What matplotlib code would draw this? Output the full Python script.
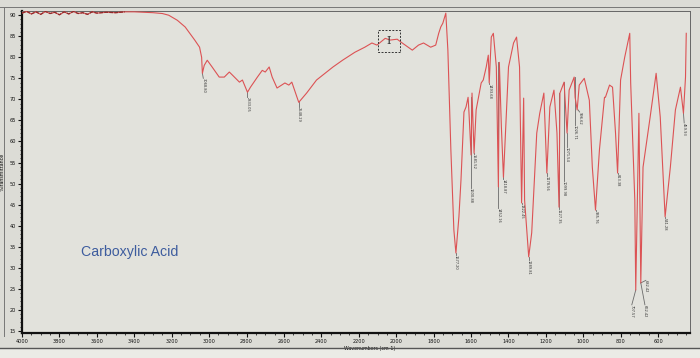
import matplotlib
matplotlib.use("Agg")
import matplotlib.pyplot as plt
from matplotlib.ticker import MultipleLocator
from matplotlib.patches import Rectangle
from matplotlib.lines import Line2D
import numpy as np

# ---- spectrum ----
wavenumber = [4000, 3975, 3950, 3925, 3900, 3875, 3850, 3825, 3800, 3775, 3750, 3725,
              3700, 3675, 3650, 3625, 3600, 3550, 3500, 3450, 3400, 3350, 3300, 3250,
              3216, 3170, 3128, 3077, 3051, 3040, 3036, 3026, 3010, 2984, 2946, 2919,
              2892, 2876, 2838, 2822, 2795, 2779, 2742, 2716, 2700, 2679, 2663, 2637,
              2595, 2574, 2558, 2521, 2479, 2426, 2338, 2287, 2221, 2168, 2130, 2103,
              2059, 2032, 1995, 1968, 1914, 1881, 1854, 1816, 1789, 1773, 1762, 1751,
              1735, 1724, 1708, 1692, 1681, 1665, 1654, 1643, 1638, 1627, 1616, 1611,
              1600, 1595, 1584, 1573, 1546, 1535, 1519, 1508, 1503, 1492, 1481, 1465,
              1454, 1449, 1438, 1427, 1400, 1373, 1357, 1341, 1330, 1319, 1314, 1292,
              1276, 1249, 1233, 1211, 1195, 1179, 1157, 1141, 1130, 1125, 1103, 1087,
              1076, 1049, 1044, 1033, 1022, 995, 968, 952, 935, 914, 887, 882, 860,
              844, 828, 817, 801, 779, 752, 747, 725, 720, 703, 693, 681, 643, 611,
              589, 563, 535, 508, 481, 465, 454, 450]
transmittance = [90.5, 90.9, 90.3, 90.8, 90.2, 90.9, 90.4, 90.7, 90.1, 90.8, 90.3, 90.9,
                 90.4, 90.6, 90.2, 90.8, 90.5, 90.7, 90.6, 90.8, 90.8, 90.7, 90.6, 90.4,
                 90.0, 88.8, 87.2, 84.1, 82.4, 80.0, 76.2, 78.1, 79.3, 77.7, 75.3, 75.3,
                 76.5, 75.8, 74.1, 74.6, 71.7, 72.9, 75.3, 76.9, 76.5, 77.7, 75.3, 72.7,
                 73.9, 73.4, 74.1, 69.3, 71.5, 74.6, 77.7, 79.3, 81.2, 82.4, 83.4, 82.9,
                 84.5, 84.1, 84.3, 83.4, 81.7, 82.9, 83.4, 82.4, 82.9, 85.7, 87.2, 88.1,
                 90.5, 81.7, 58.0, 39.0, 33.5, 42.1, 50.8, 62.0, 67.0, 68.2, 70.5, 66.7,
                 56.8, 71.5, 57.2, 67.5, 73.9, 74.6, 77.7, 80.5, 73.9, 84.8, 85.7, 77.7,
                 49.2, 78.8, 63.4, 51.5, 77.7, 83.4, 84.8, 77.7, 45.4, 70.3, 46.1, 32.6,
                 38.3, 62.0, 66.7, 71.5, 52.5, 68.2, 72.2, 62.0, 44.4, 71.5, 74.1, 62.0,
                 72.2, 75.3, 70.5, 67.5, 73.4, 75.0, 69.8, 53.9, 43.7, 58.0, 70.5, 70.5, 73.4,
                 72.9, 62.0, 52.5, 74.6, 80.0, 85.7, 73.9, 46.1, 24.7, 66.7, 26.4, 53.9, 65.8, 76.2,
                 65.8, 42.1, 53.9, 67.5, 72.9, 66.7, 75.3, 85.7]

# ---- peak annotations ----
peak_labels = ["3068.80", "2833.05", "2548.29", "1677.20", "1600.88", "1581.52",
               "1493.68", "1452.16", "1418.87", "1322.45", "1289.81", "1178.56",
               "1127.35", "1099.98", "1071.54", "1026.71", "996.62", "935.76",
               "813.38", "707.57", "682.42", "662.42", "541.28", "459.93"]
peak_wn = [3036, 2795, 2521, 1681, 1600, 1584, 1503, 1454, 1427, 1330, 1292, 1195,
           1130, 1103, 1087, 1044, 1028, 935, 817, 720, 693, 693, 563, 465]
peak_T = [76.2, 71.7, 69.3, 33.5, 70.5, 57.2, 73.9, 78.8, 51.5, 45.4, 32.6, 52.5,
          71.5, 74.1, 62.0, 75.3, 67.5, 43.7, 52.5, 24.7, 26.4, 26.4, 42.1, 66.7]
label_wn = [3031, 2795, 2521, 1681, 1600, 1584, 1503, 1454, 1427, 1330, 1292, 1195,
            1130, 1103, 1087, 1044, 1020, 935, 817, 741, 666, 671, 563, 461]
label_T = [75.0, 70.5, 68.2, 33.0, 48.9, 57.0, 73.6, 44.2, 51.1, 45.1, 31.8, 51.8,
           43.9, 50.6, 58.7, 63.9, 67.0, 43.5, 52.3, 21.2, 27.0, 21.2, 41.8, 64.4]

fig = plt.figure(figsize=(7.0, 3.58), dpi=100)
fig.patch.set_facecolor("#dcdcd6")

ax = fig.add_axes([22 / 700, 1 - 333 / 358, (690 - 22) / 700, (333 - 11) / 358])
ax.set_facecolor("#e2e2dc")

wn = np.array(wavenumber)
tr = np.array(transmittance)
ax.plot(wn, tr, color="#dc5254", lw=0.8, zorder=3)
m = wn >= 3430
ax.plot(wn[m], tr[m], color="#8e2a2a", lw=0.9, ls=(0, (3, 1)), zorder=4)

for lab, pw, pt, lw_, lt in zip(peak_labels, peak_wn, peak_T, label_wn, label_T):
    ax.plot([pw, lw_], [pt, lt], color="#6a6a6a", lw=0.6, zorder=2)
    ax.text(lw_, lt, lab, rotation=270, fontsize=2.6, color="#333333",
            ha="center", va="top", zorder=5)

# cursor box
ax.add_patch(Rectangle((1978, 81.2), 2097 - 1978, 86.4 - 81.2, fill=False,
                       ls=(0, (2, 1.5)), lw=0.7, ec="#333333", zorder=5))
ax.text(2038, 83.8, "I", fontsize=8, family="DejaVu Serif", color="#333333",
        ha="center", va="center", zorder=6)

ax.text(3423, 33.8, "Carboxylic Acid", fontsize=10.2, color="#3d5c9e",
        family="Liberation Sans", ha="center", va="center")

ax.set_xlim(4000, 430)
ax.set_ylim(14.5, 91)
ax.xaxis.set_major_locator(MultipleLocator(200))
ax.xaxis.set_minor_locator(MultipleLocator(50))
ax.yaxis.set_major_locator(MultipleLocator(5))
ax.yaxis.set_minor_locator(MultipleLocator(1))
ax.set_xticks([t for t in range(4000, 599, -200)])
ax.tick_params(axis="both", which="major", direction="out", length=3, width=0.8,
               labelsize=3.6, colors="#111111", pad=1.5)
ax.tick_params(axis="both", which="minor", direction="out", length=1.5, width=0.5)
for s in ["left", "bottom"]:
    ax.spines[s].set_linewidth(1.6)
    ax.spines[s].set_color("#111111")
for s in ["top", "right"]:
    ax.spines[s].set_linewidth(0.7)
    ax.spines[s].set_color("#666666")

ax.set_xlabel("Wavenumbers (cm-1)", fontsize=3.4, labelpad=1)
ax.xaxis.set_label_coords(0.52, -0.04)
ax.set_ylabel("%Transmittance", fontsize=3.4, labelpad=1)
ax.yaxis.set_label_coords(-0.026, 0.5)

# outer display frame
fig.add_artist(Line2D([4 / 700, 4 / 700], [1 - 336 / 358, 1 - 7 / 358], color="#777777", lw=0.7))
fig.add_artist(Line2D([0, 1], [1 - 7 / 358, 1 - 7 / 358], color="#777777", lw=0.7))
fig.add_artist(Line2D([0, 1], [1 - 348 / 358, 1 - 348 / 358], color="#555555", lw=1.0))
fig.add_artist(Rectangle((0, 0), 1, 1 - 349 / 358, transform=fig.transFigure,
                         color="#ebebe6", zorder=-1))

fig.savefig("out.png", dpi=100, facecolor=fig.get_facecolor())
